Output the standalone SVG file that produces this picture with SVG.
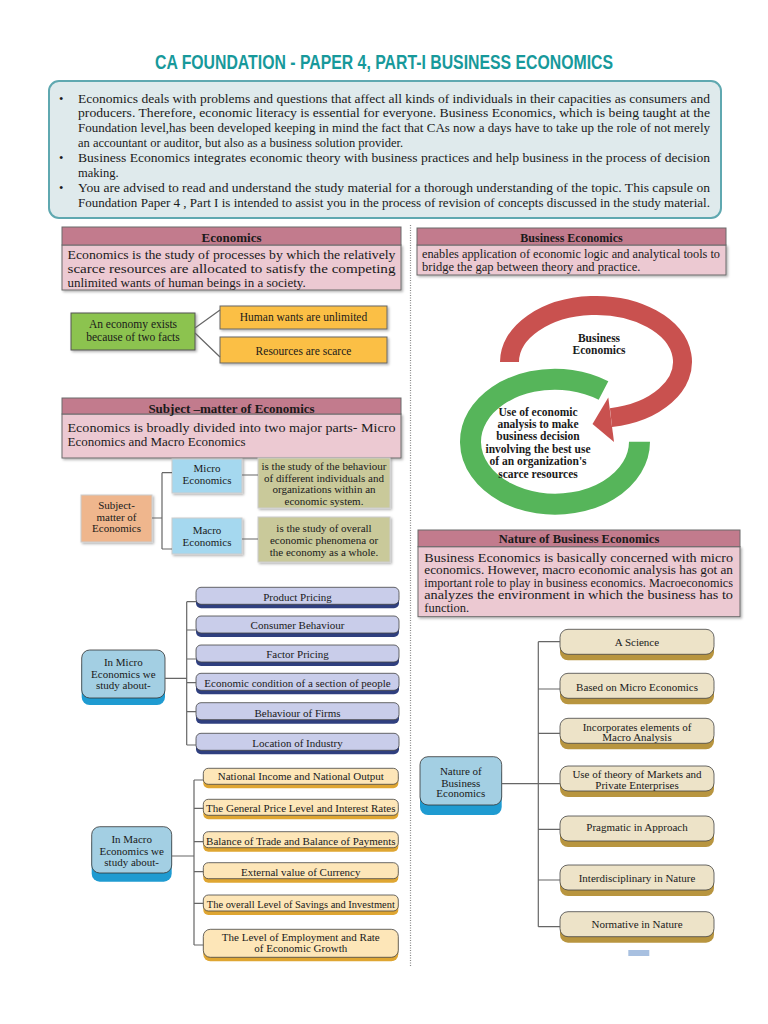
<svg xmlns="http://www.w3.org/2000/svg" width="768" height="1024" viewBox="0 0 768 1024">
<defs>
<filter id="sh" x="-10%" y="-10%" width="130%" height="140%"><feDropShadow dx="1.5" dy="1.5" stdDeviation="1" flood-color="#000" flood-opacity="0.3"/></filter>
<style>
text{font-family:"Liberation Serif","DejaVu Serif",serif;fill:#1a1a1a}
.t{font-size:12.5px}
.b{font-size:13px}
.bn{font-size:12.5px}
.h{font-size:13px;font-weight:bold;text-anchor:middle}
.s{font-size:11px;text-anchor:middle}
.sm{font-size:11.5px;text-anchor:middle}
.bd{font-size:11.5px;font-weight:bold;text-anchor:middle}
.hd{fill:#c27b8d;stroke:#6a6a6a;stroke-width:1}
.bo{fill:#ecc9d2;stroke:#6a6a6a;stroke-width:1}
.ln{fill:none;stroke:#666;stroke-width:1.2}
.lav{fill:#c9cdea;stroke:#444;stroke-width:0.8}
.lavs{fill:#2f3f7f}
.org{fill:#fde6b8;stroke:#444;stroke-width:0.8}
.orgs{fill:#dfa632}
.bei{fill:#ede3c8;stroke:#444;stroke-width:0.8}
.beis{fill:#b8953f}
.nb{fill:#a3cfe3;stroke:#333;stroke-width:0.8}
.nbs{fill:#1f9bd1}
</style>
</defs>
<rect width="768" height="1024" fill="#ffffff"/>

<g id="title">
<text x="384" y="68.5" text-anchor="middle" textLength="458" lengthAdjust="spacingAndGlyphs" style="font-family:'Liberation Sans',Arial,sans-serif;font-size:21px;font-weight:bold;fill:#17999b">CA FOUNDATION - PAPER 4, PART-I BUSINESS ECONOMICS</text>
</g>

<g id="intro">
<rect x="49" y="81" width="672" height="137" rx="10" fill="#dfeaec" stroke="#5fa8b0" stroke-width="2"/>
<text class="t" x="59" y="102.5">•</text>
<text class="t" x="59" y="162.1">•</text>
<text class="t" x="59" y="191.9">•</text>
<text class="t" x="78" y="102.5" textLength="632" lengthAdjust="spacingAndGlyphs">Economics deals with problems and questions that affect all kinds of individuals in their capacities as consumers and</text>
<text class="t" x="78" y="117.4" textLength="632" lengthAdjust="spacingAndGlyphs">producers. Therefore, economic literacy is essential for everyone. Business Economics, which is being taught at the</text>
<text class="t" x="78" y="132.3" textLength="632" lengthAdjust="spacingAndGlyphs">Foundation level,has been developed keeping in mind the fact that CAs now a days have to take up the role of not merely</text>
<text class="t" x="78" y="147.2">an accountant or auditor, but also as a business solution provider.</text>
<text class="t" x="78" y="162.1" textLength="632" lengthAdjust="spacingAndGlyphs">Business Economics integrates  economic  theory with business practices and  help  business  in the process of decision</text>
<text class="t" x="78" y="177">making.</text>
<text class="t" x="78" y="191.9" textLength="632" lengthAdjust="spacingAndGlyphs">You are advised to read and understand the study material  for a thorough understanding of the topic. This capsule on</text>
<text class="t" x="78" y="206.8" textLength="632" lengthAdjust="spacingAndGlyphs">Foundation Paper 4 , Part I is intended to assist you in the process of revision of concepts discussed in the study material.</text>
</g>

<line x1="410.5" y1="225" x2="410.5" y2="966" stroke="#888" stroke-width="1.2" stroke-dasharray="1 1.5"/>

<g id="economics">
<rect class="bo" x="62" y="245" width="339" height="45" filter="url(#sh)"/>
<rect class="hd" x="62" y="227" width="339" height="18"/>
<text class="h" x="231.5" y="241.5">Economics</text>
<text class="b" x="67.5" y="258.5" textLength="328" lengthAdjust="spacingAndGlyphs">Economics is the study of processes by which the relatively</text>
<text class="b" x="67.5" y="272.5" textLength="328" lengthAdjust="spacingAndGlyphs">scarce resources are allocated to satisfy the competing</text>
<text class="b" x="67.5" y="286.5">unlimited wants of human beings in a society.</text>
</g>

<g id="economy-exists">
<rect x="71" y="313" width="124" height="37" fill="#8cc34f" stroke="#555" stroke-width="1" filter="url(#sh)"/>
<text class="sm" x="133" y="328">An economy exists</text>
<text class="sm" x="133" y="340.5">because of two facts</text>
</g>
<g id="wants">
<rect x="220" y="306" width="167" height="23" fill="#fbbf45" stroke="#666" stroke-width="1" filter="url(#sh)"/>
<text class="sm" x="303.5" y="321">Human wants are unlimited</text>
</g>
<g id="scarce">
<rect x="220" y="337" width="167" height="26" fill="#fbbf45" stroke="#666" stroke-width="1" filter="url(#sh)"/>
<text class="sm" x="303.5" y="354.5">Resources are scarce</text>
</g>

<g id="subject-matter">
<rect class="bo" x="62" y="414" width="339" height="44" filter="url(#sh)"/>
<rect class="hd" x="62" y="398" width="339" height="16"/>
<text class="h" x="231.5" y="413">Subject –matter of Economics</text>
<text class="b" x="67.5" y="431.5" textLength="328" lengthAdjust="spacingAndGlyphs">Economics is broadly divided into two major parts- Micro</text>
<text class="b" x="67.5" y="446">Economics and Macro Economics</text>
</g>

<g id="subject-box">
<rect x="81" y="495" width="71" height="47" fill="#efb68d" stroke="#ccc" stroke-width="1" filter="url(#sh)"/>
<text class="s" x="116.5" y="509">Subject-</text>
<text class="s" x="116.5" y="520.5">matter of</text>
<text class="s" x="116.5" y="532">Economics</text>
</g>
<g id="micro">
<rect x="172" y="459" width="70" height="34" fill="#a5d8ef" stroke="#ccc" stroke-width="1" filter="url(#sh)"/>
<text class="s" x="207" y="472">Micro</text>
<text class="s" x="207" y="484">Economics</text>
</g>
<g id="micro-desc">
<rect x="258" y="458" width="132" height="50" fill="#c9c99a" stroke="#ccc" stroke-width="1" filter="url(#sh)"/>
<text class="s" x="324" y="470">is the study of the behaviour</text>
<text class="s" x="324" y="481.5">of different individuals and</text>
<text class="s" x="324" y="493">organizations within an</text>
<text class="s" x="324" y="504.5">economic system.</text>
</g>
<g id="macro">
<rect x="172" y="518" width="70" height="36" fill="#a5d8ef" stroke="#ccc" stroke-width="1" filter="url(#sh)"/>
<text class="s" x="207" y="534">Macro</text>
<text class="s" x="207" y="545.5">Economics</text>
</g>
<g id="macro-desc">
<rect x="258" y="517" width="132" height="45" fill="#c9c99a" stroke="#ccc" stroke-width="1" filter="url(#sh)"/>
<text class="s" x="324" y="532">is the study of overall</text>
<text class="s" x="324" y="543.5">economic phenomena or</text>
<text class="s" x="324" y="555.5">the economy as a whole.</text>
</g>

<g id="micro-node">
<rect class="nbs" x="81.7" y="657" width="83.3" height="48" rx="8"/>
<rect class="nb" x="81.7" y="650" width="83.3" height="48" rx="8"/>
<text class="s" x="123.3" y="665.5">In Micro</text>
<text class="s" x="123.3" y="677.5">Economics we</text>
<text class="s" x="123.3" y="689">study about-</text>
</g>
<g id="micro-items">
<rect class="lavs" x="196" y="591.3" width="203" height="17" rx="5"/><rect class="lav" x="196" y="587.3" width="203" height="17" rx="5"/>
<text class="s" x="297.5" y="600.5">Product Pricing</text>
<rect class="lavs" x="196" y="620" width="203" height="17" rx="5"/><rect class="lav" x="196" y="616" width="203" height="17" rx="5"/>
<text class="s" x="297.5" y="629">Consumer Behaviour</text>
<rect class="lavs" x="196" y="649" width="203" height="17" rx="5"/><rect class="lav" x="196" y="645" width="203" height="17" rx="5"/>
<text class="s" x="297.5" y="658">Factor Pricing</text>
<rect class="lavs" x="196" y="677.3" width="203" height="17" rx="5"/><rect class="lav" x="196" y="673.3" width="203" height="17" rx="5"/>
<text class="s" x="297.5" y="686.5">Economic condition of a section of people</text>
<rect class="lavs" x="196" y="706.7" width="203" height="17" rx="5"/><rect class="lav" x="196" y="702.7" width="203" height="17" rx="5"/>
<text class="s" x="297.5" y="716.5">Behaviour of Firms</text>
<rect class="lavs" x="196" y="737.3" width="203" height="17" rx="5"/><rect class="lav" x="196" y="733.3" width="203" height="17" rx="5"/>
<text class="s" x="297.5" y="746.5">Location of Industry</text>
</g>

<g id="macro-node">
<rect class="nbs" x="91.7" y="835" width="80" height="46.7" rx="8"/>
<rect class="nb" x="91.7" y="826.7" width="80" height="46.3" rx="8"/>
<text class="s" x="131.7" y="843">In Macro</text>
<text class="s" x="131.7" y="854.5">Economics we</text>
<text class="s" x="131.7" y="865.5">study about-</text>
</g>
<g id="macro-items">
<rect class="orgs" x="203.3" y="772.3" width="195" height="16" rx="5"/><rect class="org" x="203.3" y="768.3" width="195" height="16" rx="5"/>
<text class="s" x="300.8" y="780">National Income and National Output</text>
<rect class="orgs" x="203.3" y="803.3" width="195" height="16" rx="5"/><rect class="org" x="203.3" y="799.3" width="195" height="16" rx="5"/>
<text class="s" x="300.8" y="812">The General Price Level and Interest Rates</text>
<rect class="orgs" x="203.3" y="835.7" width="195" height="16" rx="5"/><rect class="org" x="203.3" y="831.7" width="195" height="16" rx="5"/>
<text class="s" x="300.8" y="844.5">Balance of Trade and Balance of Payments</text>
<rect class="orgs" x="203.3" y="866.7" width="195" height="16" rx="5"/><rect class="org" x="203.3" y="862.7" width="195" height="16" rx="5"/>
<text class="s" x="300.8" y="875.5">External value of Currency</text>
<rect class="orgs" x="203.3" y="899" width="195" height="16" rx="5"/><rect class="org" x="203.3" y="895" width="195" height="16" rx="5"/>
<text class="s" x="300.8" y="908" textLength="188" lengthAdjust="spacingAndGlyphs">The overall Level of Savings and Investment</text>
<rect class="orgs" x="203.3" y="933.3" width="195" height="28" rx="7"/><rect class="org" x="203.3" y="929.3" width="195" height="28" rx="7"/>
<text class="s" x="300.8" y="940.5">The Level of Employment and Rate</text>
<text class="s" x="300.8" y="952">of Economic Growth</text>
</g>

<g id="business-economics">
<rect class="bo" x="417" y="245" width="309" height="30" filter="url(#sh)"/>
<rect class="hd" x="417" y="228" width="309" height="17"/>
<text class="h" x="571.5" y="241.5" style="font-size:12px">Business Economics</text>
<text class="bn" x="422" y="257.5" textLength="298" lengthAdjust="spacingAndGlyphs">enables application of economic logic and analytical tools to</text>
<text class="bn" x="422" y="270.5">bridge the gap between theory and practice.</text>
</g>

<g id="cycle">
<path d="M 509.5 362 A 86.5 56.5 0 1 1 611 417.6" fill="none" stroke="#c9514f" stroke-width="19"/>
<polygon points="608.3,397.5 614,442 592.5,424" fill="#c9514f"/>
<path d="M 603.5 390.5 A 84.5 62.5 0 1 0 639.5 441.7" fill="none" stroke="#56b55a" stroke-width="21"/>
<text class="bd" x="599" y="341.5">Business</text>
<text class="bd" x="599" y="353.5">Economics</text>
<text class="bd" x="538" y="415.5">Use of economic</text>
<text class="bd" x="538" y="428">analysis to make</text>
<text class="bd" x="538" y="440">business decision</text>
<text class="bd" x="538" y="452.5">involving the best use</text>
<text class="bd" x="538" y="465">of an organization's</text>
<text class="bd" x="538" y="477.5">scarce resources</text>
</g>

<g id="nature">
<rect class="bo" x="418" y="546.7" width="322" height="70" filter="url(#sh)"/>
<rect class="hd" x="418" y="530" width="322" height="16.7"/>
<text class="h" x="579" y="543" style="font-size:12.5px">Nature of Business Economics</text>
<text class="bn" x="424.3" y="561.5" textLength="308.7" lengthAdjust="spacingAndGlyphs">Business Economics is basically concerned with micro</text>
<text class="bn" x="424.3" y="574" textLength="308.7" lengthAdjust="spacingAndGlyphs">economics. However, macro economic analysis has got an</text>
<text class="bn" x="424.3" y="586.5" textLength="308.7" lengthAdjust="spacingAndGlyphs">important role to play in business economics. Macroeconomics</text>
<text class="bn" x="424.3" y="599" textLength="308.7" lengthAdjust="spacingAndGlyphs">analyzes the environment in which the business has to</text>
<text class="bn" x="424.3" y="612">function.</text>
</g>

<g id="nature-node">
<rect class="nbs" x="420" y="766.7" width="81.7" height="48.3" rx="8"/>
<rect class="nb" x="420" y="756.7" width="81.7" height="48.3" rx="8"/>
<text class="s" x="460.8" y="774.5">Nature of</text>
<text class="s" x="460.8" y="786.5">Business</text>
<text class="s" x="460.8" y="797">Economics</text>
</g>
<g id="nature-items">
<rect class="beis" x="560" y="635.3" width="154" height="25" rx="8"/><rect class="bei" x="560" y="629.3" width="154" height="25" rx="8"/>
<text class="s" x="637" y="645.5">A Science</text>
<rect class="beis" x="560" y="679.3" width="154" height="25" rx="8"/><rect class="bei" x="560" y="673.3" width="154" height="25" rx="8"/>
<text class="s" x="637" y="690.5">Based on Micro Economics</text>
<rect class="beis" x="560" y="724.3" width="154" height="25" rx="8"/><rect class="bei" x="560" y="718.3" width="154" height="25" rx="8"/>
<text class="s" x="637" y="730.5">Incorporates elements of</text>
<text class="s" x="637" y="741.3">Macro Analysis</text>
<rect class="beis" x="560" y="772" width="154" height="25" rx="8"/><rect class="bei" x="560" y="766" width="154" height="25" rx="8"/>
<text class="s" x="637" y="778">Use of theory of Markets and</text>
<text class="s" x="637" y="789">Private Enterprises</text>
<rect class="beis" x="560" y="822" width="154" height="25" rx="8"/><rect class="bei" x="560" y="816" width="154" height="25" rx="8"/>
<text class="s" x="637" y="831.3">Pragmatic in Approach</text>
<rect class="beis" x="560" y="871" width="154" height="25" rx="8"/><rect class="bei" x="560" y="865" width="154" height="25" rx="8"/>
<text class="s" x="637" y="882.3">Interdisciplinary in Nature</text>
<rect class="beis" x="560" y="917.7" width="154" height="25" rx="8"/><rect class="bei" x="560" y="911.7" width="154" height="25" rx="8"/>
<text class="s" x="637" y="928">Normative in Nature</text>
</g>

<rect x="628.3" y="950" width="21" height="6" fill="#a8c0e0"/>

<g id="connectors" class="ln">
<path class="ln" d="M195 328 L220 310 M195 333 L220 357"/>
<path class="ln" d="M152 518 H162 M162 472.7 V549 M162 472.7 H172 M162 549 H172 M242 475 H258 M242 539 H258"/>
<path class="ln" d="M165 678.3 H186.7 M186.7 601.7 V745 M186.7 601.7 H196 M186.7 630 H196 M186.7 659 H196 M186.7 682.7 H196 M186.7 711.7 H196 M186.7 745 H196"/>
<path class="ln" d="M171.7 856 H194 M194 780 V945 M194 780 H203.3 M194 808.3 H203.3 M194 841.7 H203.3 M194 871.7 H203.3 M194 903.3 H203.3 M194 945 H203.3"/>
<path class="ln" d="M501.7 783.7 H538.3 M538.3 641.7 V926.7 M538.3 641.7 H560 M538.3 689 H560 M538.3 733.3 H560 M538.3 783.7 H560 M538.3 829.3 H560 M538.3 880 H560 M538.3 926.7 H560"/>
</g>
</svg>
